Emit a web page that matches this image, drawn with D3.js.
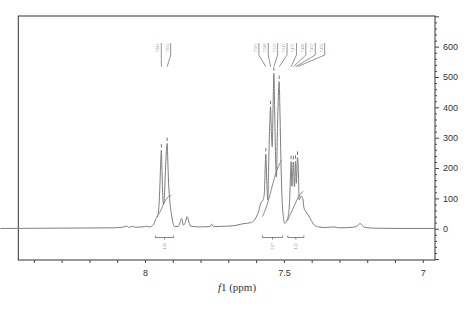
<!DOCTYPE html>
<html>
<head>
<meta charset="utf-8">
<script src="https://cdn.jsdelivr.net/npm/d3@7"></script>
<style>
  body { margin: 0; background: #fff; }
  svg { display: block; font-family: "Liberation Serif", "DejaVu Serif", serif; }
  .axis text { fill: #333; font-size: 9px; }
  .axis line { stroke: #444; }
  .axis .domain { display: none; }
</style>
</head>
<body>
<svg id="chart" width="474" height="310"></svg>
<script>
// spectrum: chemical shift (ppm) and intensity
var shiftPpm = [8.52, 8.30, 8.12, 8.08, 8.065, 8.058, 8.045, 8.035, 8.01, 7.995, 7.985, 7.97, 7.962, 7.955, 7.950, 7.946, 7.943, 7.941, 7.939, 7.936, 7.933, 7.930, 7.926, 7.922, 7.920, 7.918, 7.915, 7.911, 7.905, 7.898, 7.892, 7.880, 7.872, 7.868, 7.862, 7.855, 7.848, 7.842, 7.835, 7.80, 7.766, 7.760, 7.754, 7.72, 7.68, 7.65, 7.62, 7.605, 7.59, 7.583, 7.575, 7.570, 7.567, 7.565, 7.562, 7.558, 7.555, 7.551, 7.548, 7.545, 7.542, 7.539, 7.536, 7.533, 7.530, 7.527, 7.523, 7.519, 7.517, 7.514, 7.510, 7.506, 7.502, 7.497, 7.490, 7.483, 7.479, 7.476, 7.474, 7.471, 7.466, 7.462, 7.458, 7.455, 7.451, 7.448, 7.445, 7.442, 7.438, 7.432, 7.428, 7.420, 7.412, 7.402, 7.390, 7.375, 7.35, 7.32, 7.30, 7.25, 7.235, 7.226, 7.218, 7.21, 7.18, 7.10, 6.956]
var intensity = [1, 2, 3, 5, 9, 4, 8, 5, 6, 8, 6, 12, 30, 42, 70, 150, 230, 259, 200, 110, 80, 110, 200, 270, 281, 230, 150, 95, 50, 15, 7, 8, 25, 34, 12, 20, 40, 22, 8, 6, 7, 15, 7, 8, 10, 16, 20, 30, 60, 85, 95, 120, 210, 246, 170, 95, 200, 340, 402, 320, 270, 400, 512, 380, 240, 171, 330, 460, 485, 380, 200, 90, 40, 18, 25, 50, 100, 180, 221, 140, 220, 138, 222, 150, 235, 200, 95, 100, 108, 100, 70, 55, 45, 28, 12, 6, 4, 6, 3, 5, 10, 17, 12, 5, 2, 1, 1]

// integral curves
var integral1Ppm = [7.958, 7.950, 7.942, 7.935, 7.928, 7.920, 7.912, 7.905]
var integral1Val = [40, 48, 62, 78, 92, 103, 108, 109]
var integral2Ppm = [7.577, 7.565, 7.555, 7.545, 7.535, 7.525, 7.515, 7.508]
var integral2Val = [40, 65, 95, 130, 165, 195, 215, 226]
var integral3Ppm = [7.487, 7.478, 7.468, 7.458, 7.448, 7.438, 7.430]
var integral3Val = [26, 45, 65, 85, 105, 118, 123]

// integration ranges and values
var rangeFrom = [7.962, 7.577, 7.486]
var rangeTo = [7.897, 7.505, 7.428]
var rangeLabels = ["1.00", "2.67", "1.22"]

// picked peaks, two label groups
var peakGroup1 = ["7.943", "7.922"]
var peakGroup2 = ["7.567", "7.548", "7.537", "7.517", "7.475", "7.466", "7.457", "7.450"]
var peakPpm1 = [7.941, 7.920]
var peakPpm2 = [7.565, 7.548, 7.536, 7.517, 7.474, 7.466, 7.458, 7.451]
var peakVal1 = [259, 281]
var peakVal2 = [246, 402, 512, 485, 221, 220, 222, 235]

var xTicks = d3.range(70, 85, 1).map(function (d) { return d / 10 })
var xLabels = { "8": "8", "7.5": "7.5", "7": "7" }
var yTicks = d3.range(-100, 701, 20)

var margin = { left: 18.3, right: 435, top: 16, bottom: 260 }
var svg = d3.select("#chart")
var x = d3.scaleLinear().domain([8.456, 6.956]).range([margin.left, margin.right])
var y = d3.scaleLinear().domain([-103, 701]).range([margin.bottom, margin.top])
var grey = "#7d7d7d"

// frame
svg.append("rect")
  .attr("x", margin.left).attr("y", margin.top)
  .attr("width", margin.right - margin.left).attr("height", margin.bottom - margin.top)
  .attr("fill", "none").attr("stroke", "#333").attr("stroke-width", 1)

// x axis
svg.append("g").attr("class", "axis")
  .attr("transform", "translate(0," + margin.bottom + ")")
  .call(d3.axisBottom(x).tickValues(xTicks).tickSize(3).tickPadding(7)
    .tickFormat(function (d) { return xLabels[String(+d.toFixed(1))] || "" }))

// y axis on the right, major every 100, minor every 20
var gy = svg.append("g").attr("class", "axis")
  .attr("transform", "translate(" + margin.right + ",0)")
  .call(d3.axisRight(y).tickValues(yTicks).tickSize(4).tickPadding(4)
    .tickFormat(function (d) { return (d % 100 === 0 && d >= 0 && d <= 600) ? d : "" }))
gy.selectAll(".tick").each(function (d) {
  if (d % 100 !== 0) d3.select(this).select("line").attr("x2", 2)
})

// x axis title
var title = svg.append("text")
  .attr("x", 237).attr("y", 291)
  .attr("text-anchor", "middle")
  .attr("font-size", 11).attr("fill", "#333")
title.append("tspan").attr("font-style", "italic").text("f")
title.append("tspan").text("1 (ppm)")

// spectrum
var spectrum = shiftPpm.map(function (p, i) { return [p, intensity[i]] })
var line = d3.line()
  .x(function (d) { return x(d[0]) })
  .y(function (d) { return y(d[1]) })
  .curve(d3.curveMonotoneX)

svg.append("path")
  .attr("d", line(spectrum))
  .attr("fill", "none").attr("stroke", grey).attr("stroke-width", 1)
  .attr("stroke-linejoin", "round")

// integral curves
var smooth = d3.line()
  .x(function (d) { return x(d[0]) })
  .y(function (d) { return y(d[1]) })
  .curve(d3.curveBasis)
;[[integral1Ppm, integral1Val], [integral2Ppm, integral2Val], [integral3Ppm, integral3Val]].forEach(function (s) {
  svg.append("path")
    .attr("d", smooth(s[0].map(function (p, i) { return [p, s[1][i]] })))
    .attr("fill", "none").attr("stroke", grey).attr("stroke-width", 0.9)
})

// integration brackets with values
var by = y(-29)
rangeFrom.forEach(function (a, i) {
  var x0 = x(a), x1 = x(rangeTo[i]), xm = (x0 + x1) / 2
  var g = svg.append("g").attr("stroke", "#666").attr("stroke-width", 0.8).attr("fill", "none")
  g.append("path").attr("d", "M" + x0 + "," + (by - 2) + "V" + by + "H" + x1 + "V" + (by - 2))
  g.append("path").attr("d", "M" + xm + "," + by + "V" + (by + 2))
  svg.append("text")
    .attr("transform", "translate(" + (xm + 1.5) + "," + (by + 9) + ") rotate(-90)")
    .attr("text-anchor", "middle")
    .attr("font-size", 3.8).attr("fill", "#888")
    .text(rangeLabels[i])
})

// peak labels with leader lines
function drawPeakGroup(labels, ppm, vals, shift) {
  var px = ppm.map(function (p) { return x(p) })
  var mean = d3.mean(px) + shift
  var step = 9.4
  labels.forEach(function (t, i) {
    var lx = mean + (i - (labels.length - 1) / 2) * step
    svg.append("path")
      .attr("d", "M" + lx + ",43V55L" + px[i] + ",66.7")
      .attr("fill", "none").attr("stroke", "#666").attr("stroke-width", 0.7)
    svg.append("text")
      .attr("transform", "translate(" + (lx - 2) + ",48) rotate(-90)")
      .attr("text-anchor", "middle")
      .attr("font-size", 3.8).attr("fill", "#888")
      .text(t)
    // small marker over the peak top
    svg.append("line")
      .attr("x1", px[i]).attr("x2", px[i])
      .attr("y1", y(vals[i]) - 2.5).attr("y2", y(vals[i]) - 6)
      .attr("stroke", "#666").attr("stroke-width", 0.9)
  })
}
drawPeakGroup(peakGroup1, peakPpm1, peakVal1, 1.7)
drawPeakGroup(peakGroup2, peakPpm2, peakVal2, 8.4)
</script>
</body>
</html>
